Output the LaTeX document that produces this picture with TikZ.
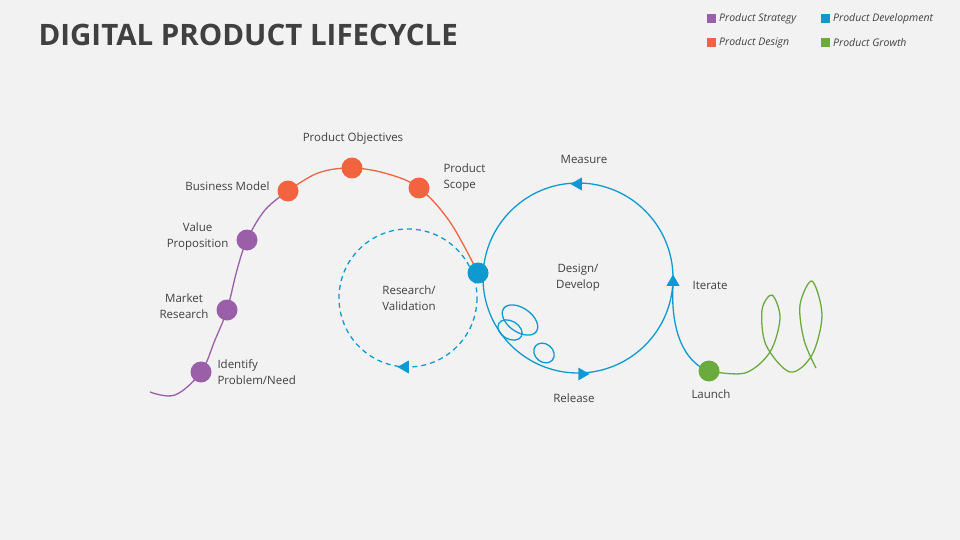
\documentclass[tikz,border=0pt]{standalone}
\usepackage{fontspec}
\setmainfont{Open Sans}
\usetikzlibrary{shapes.geometric}
\definecolor{cP}{HTML}{9B5FAA}
\definecolor{cO}{HTML}{F26440}
\definecolor{cB}{HTML}{0E9AD0}
\definecolor{cG}{HTML}{6BAA3D}
\definecolor{bg}{HTML}{F2F2F2}
\definecolor{tx}{HTML}{404040}
\begin{document}
\begin{tikzpicture}[x=1pt,y=-1pt,
  dot/.style={circle,minimum size=21pt,inner sep=0pt},
  lbl/.style={font=\fontsize{11.5}{16}\selectfont,text=tx,align=center},
  leg/.style={font=\fontsize{10.5}{12}\selectfont\itshape,text=tx,anchor=west},
  tri/.style={fill=cB,regular polygon,regular polygon sides=3,inner sep=0pt,minimum size=15pt}]
\fill[bg] (0,0) rectangle (960,540);
\useasboundingbox (0,0) rectangle (960,540);
\node[anchor=west,font=\fontsize{29.5}{32}\selectfont\bfseries,text=tx] (title) at (35,35) {DIGITAL PRODUCT LIFECYCLE};
% legend
\node[fill=cP,minimum size=9pt,inner sep=0pt] (l1) at (711,19) {};
\node[leg] (t1) at (l1.east) {Product Strategy};
\node[fill=cB,minimum size=9pt,inner sep=0pt] (l2) at (825,19) {};
\node[leg] (t2) at (l2.east) {Product Development};
\node[fill=cO,minimum size=9pt,inner sep=0pt] (l3) at (711,43) {};
\node[leg] (t3) at (l3.east) {Product Design};
\node[fill=cG,minimum size=9pt,inner sep=0pt] (l4) at (825,43) {};
\node[leg] (t4) at (l4.east) {Product Growth};
% curves
\draw[cP,line width=1.3pt] plot[smooth,tension=0.6] coordinates {(150,392) (175,395) (201,372) (215,340) (227,310) (237,270) (247,240) (265,210) (288,191)};
\draw[cO,line width=1.3pt] plot[smooth,tension=0.6] coordinates {(288,191) (318,173) (352,168) (388,174) (419,188) (450,222) (478,273)};
% dashed circle
\draw[cB,line width=1.3pt,dash pattern=on 5pt off 4pt] (408,298) circle (69);
\node[tri,rotate=90] (a4) at (405,367) {};
% big circle
\draw[cB,line width=1.3pt] (578,278) circle (95);
\draw[cB,line width=1.3pt] (673,285) .. controls (670,340) and (690,365) .. (709,371);
\draw[cB,line width=1.3pt] (510,330) ellipse[x radius=13,y radius=9,rotate=-30];
\draw[cB,line width=1.3pt] (520,320) ellipse[x radius=20,y radius=12,rotate=-35];
\draw[cB,line width=1.3pt] (544,353) ellipse[x radius=11,y radius=9,rotate=-40];
\node[tri,rotate=90] (a1) at (578,184) {};
\node[tri,rotate=-90] (a2) at (582,374) {};
\node[tri] (a3) at (673,282) {};
% green
\draw[cG,line width=1.3pt] plot[smooth,tension=0.55] coordinates {(709,371) (745,373) (770,352) (780,318) (772,295) (762,310) (766,345) (790,372) (812,355) (822,315) (812,281) (800,305) (804,340) (816,368)};
% dots
\node[dot,fill=cP] (n1) at (201,372) {};
\node[dot,fill=cP] (n2) at (227,310) {};
\node[dot,fill=cP] (n3) at (247,240) {};
\node[dot,fill=cO] (n4) at (288,191) {};
\node[dot,fill=cO] (n5) at (352,168) {};
\node[dot,fill=cO] (n6) at (419,188) {};
\node[dot,fill=cB] (n7) at (478,273) {};
\node[dot,fill=cG] (n8) at (709,371) {};
% labels
\node[lbl] (L5) at (353,139) {Product Objectives};
\node[lbl,anchor=east] (L4) at (273,186) {Business Model};
\node[lbl,align=left,anchor=west] (L6) at (440,178) {Product\\Scope};
\node[lbl,anchor=east] (L3) at (232,237) {Value\\Proposition};
\node[lbl,anchor=east] (L2) at (212,306) {Market\\Research};
\node[lbl,align=left,anchor=west] (L1) at (214,372) {Identify\\Problem/Need};
\node[lbl] (Lr) at (409,298) {Research/\\Validation};
\node[lbl] (Ld) at (578,278) {Design/\\Develop};
\node[lbl] (Lm) at (584,159) {Measure};
\node[lbl] (Lre) at (574,398) {Release};
\node[lbl,anchor=west] (Li) at (689,285) {Iterate};
\node[lbl] (Ll) at (711,394) {Launch};
\end{tikzpicture}
\end{document}
